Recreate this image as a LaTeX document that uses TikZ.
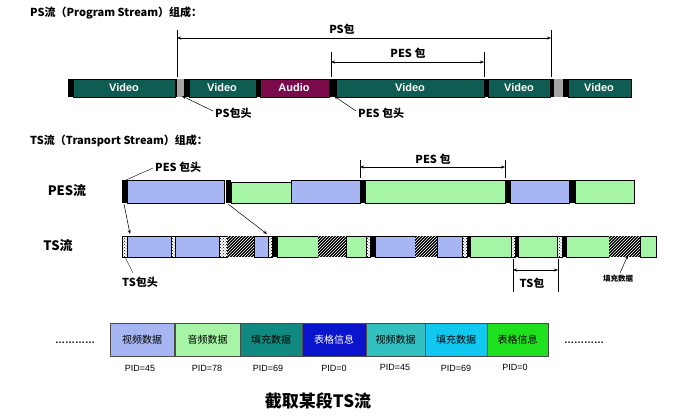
\documentclass[tikz,border=0pt]{standalone}
\usepackage{fontspec}
\setmainfont{Liberation Sans}
\newfontfamily\cjk{Noto Sans CJK SC}
\usetikzlibrary{patterns,arrows.meta}
\definecolor{teal1}{HTML}{0E5C52}
\definecolor{maroon1}{HTML}{7A0C4C}
\definecolor{pblue}{HTML}{A6B6F2}
\definecolor{pgreen}{HTML}{A6F5A6}
\tikzset{
 lbl/.style={font=\cjk\bfseries\fontsize{11}{11}\selectfont,inner sep=0pt},
 vid/.style={fill=teal1,draw=black,line width=0.4pt},
 seg/.style={draw=black,line width=0.4pt},
 wtxt/.style={text=white,font=\bfseries\fontsize{11}{11}\selectfont},
 dim/.style={{Stealth[length=4pt]}-{Stealth[length=4pt]},line width=0.5pt},
 ptr/.style={-{Stealth[length=4pt]},line width=0.5pt},
 pid/.style={font=\fontsize{9}{9}\selectfont},
}
\begin{document}
\begin{tikzpicture}[x=1pt,y=-1pt]
\useasboundingbox[fill=white] (0,0) rectangle (694,417);
% PS section
\node[lbl,anchor=west] (t1) at (30,13) {PS流（Program Stream）组成：};
\fill (68,79) rectangle (632,97);
\path[vid] (73,79) rectangle (175,97);
\fill[gray!70] (177,79) rectangle (184,97);
\path[vid] (189,79) rectangle (256,97);
\path[fill=maroon1,draw=black] (260,79) rectangle (329,97);
\path[vid] (336,79) rectangle (484,97);
\path[vid] (488,79) rectangle (550,97);
\fill[gray!70] (554,79) rectangle (563,97);
\path[vid] (568,79) rectangle (631,97);
\node[wtxt] (a1) at (124,88) {Video};
\node[wtxt] (a2) at (222,88) {Video};
\node[wtxt] (a3) at (294,88) {Audio};
\node[wtxt] (a4) at (410,88) {Video};
\node[wtxt] (a5) at (519,88) {Video};
\node[wtxt] (a6) at (599,88) {Video};
\draw (177,30) -- (177,77); \draw (551,30) -- (551,77);
\draw[dim] (177,38) -- (551,38);
\node[lbl] (psb) at (342,29) {PS包};
\draw (331,52) -- (331,77); \draw (484,52) -- (484,77);
\draw[dim] (331,62) -- (484,62);
\node[lbl] (pesb) at (408,53) {PES 包};
\node[lbl,anchor=west] (psh) at (215,113) {PS包头};
\draw[ptr] (213,111) -- (182,96);
\node[lbl,anchor=west] (pesh) at (358,113) {PES 包头};
\draw[ptr] (356,111) -- (334,96);
% TS section
\node[lbl,anchor=west] (t2) at (30,141) {TS流（Transport Stream）组成：};
\node[lbl,font=\cjk\bfseries\fontsize{13}{13}\selectfont] (pesl) at (67,190) {PES流};
\node[lbl,font=\cjk\bfseries\fontsize{13}{13}\selectfont] (tsl) at (58,245) {TS流};
\fill (122,180) rectangle (127,203);
\path[seg,fill=pblue] (127,180) rectangle (224,203);
\fill (226,180) rectangle (231,203);
\path[seg,fill=pgreen] (231,182) rectangle (291,203);
\path[seg,fill=pblue] (291,180) rectangle (360,203);
\fill (360,180) rectangle (365,203);
\path[seg,fill=pgreen] (365,180) rectangle (505,203);
\fill (505,180) rectangle (510,203);
\path[seg,fill=pblue] (510,180) rectangle (569,203);
\fill (569,180) rectangle (575,203);
\path[seg,fill=pgreen] (575,180) rectangle (634,203);
\draw (360,160) -- (360,178); \draw (505,160) -- (505,178);
\draw[dim] (360,167) -- (505,167);
\node[lbl] (pesb2) at (433,159) {PES 包};
\node[lbl,anchor=west] (pesh2) at (155,167) {PES 包头};
\draw (153,168) -- (126,180);
% TS row
\foreach \a/\b/\c in {122/127/h,127/171/b,171/175/h,175/219/b,219/227/h,227/254/k,254/268/b,268/272/h,272/277/x,277/318/g,318/346/k,346/366/g,366/370/h,370/375/x,375/415/b,415/437/k,437/462/b,462/467/h,467/470/x,470/511/g,511/515/h,515/518/x,518/557/g,557/562/h,562/566/x,566/609/g,609/640/k,640/656/g}{
  \if\c h \path[seg,pattern=crosshatch dots] (\a,236) rectangle (\b,257);\fi
  \if\c b \path[seg,fill=pblue] (\a,236) rectangle (\b,257);\fi
  \if\c g \path[seg,fill=pgreen] (\a,236) rectangle (\b,257);\fi
  \if\c x \fill (\a,236) rectangle (\b,257);\fi
  \if\c k \fill (\a,236) rectangle (\b,257); \path[pattern=north east lines,pattern color=white] (\a,236) rectangle (\b,257);\fi
}
\draw[ptr] (124,204) -- (130,234);
\draw[ptr] (228,204) -- (267,234);
\node[lbl,anchor=west] (tsh) at (122,282) {TS包头};
\draw (125,257) -- (133,273);
\draw (513,259) -- (513,292); \draw (558,259) -- (558,292);
\draw[dim] (513,270) -- (558,270);
\node[lbl] (tsb) at (532,283) {TS包};
\node[lbl,font=\cjk\bfseries\fontsize{7.5}{7.5}\selectfont] (tc) at (618,279) {填充数据};
\draw[ptr] (620,273) -- (628,255);
% bottom
\tikzset{bb/.style={draw=black!70,minimum height=33pt,inner sep=0pt,anchor=west,font=\cjk\fontsize{10}{10}\selectfont}}
\node[bb,fill=pblue,minimum width=64pt] (b1) at (110,340) {视频数据};
\node[bb,fill=pgreen,minimum width=65pt] (b2) at (175,340) {音频数据};
\node[bb,fill={rgb,255:red,16;green,138;blue,128},minimum width=62pt] (b3) at (240,340) {填充数据};
\node[bb,fill={rgb,255:red,10;green,20;blue,204},text=white,minimum width=64pt] (b4) at (302,340) {表格信息};
\node[bb,fill={rgb,255:red,50;green,192;blue,192},minimum width=59pt] (b5) at (366,340) {视频数据};
\node[bb,fill={rgb,255:red,16;green,200;blue,240},minimum width=62pt] (b6) at (425,340) {填充数据};
\node[bb,fill={rgb,255:red,30;green,224;blue,30},minimum width=61pt] (b7) at (487,340) {表格信息};
\node[font=\bfseries] (d1) at (75,343) {…………};
\node[font=\bfseries] (d2) at (584,343) {…………};
\node[pid] (q1) at (140,368) {PID=45};
\node[pid] (q2) at (207,368) {PID=78};
\node[pid] (q3) at (268,368) {PID=69};
\node[pid] (q4) at (334,368) {PID=0};
\node[pid] (q5) at (395,367) {PID=45};
\node[pid] (q6) at (456,368) {PID=69};
\node[pid] (q7) at (515,367) {PID=0};
\node[font=\cjk\bfseries\fontsize{17}{17}\selectfont] (cap) at (318,401) {截取某段TS流};
\end{tikzpicture}
\end{document}
